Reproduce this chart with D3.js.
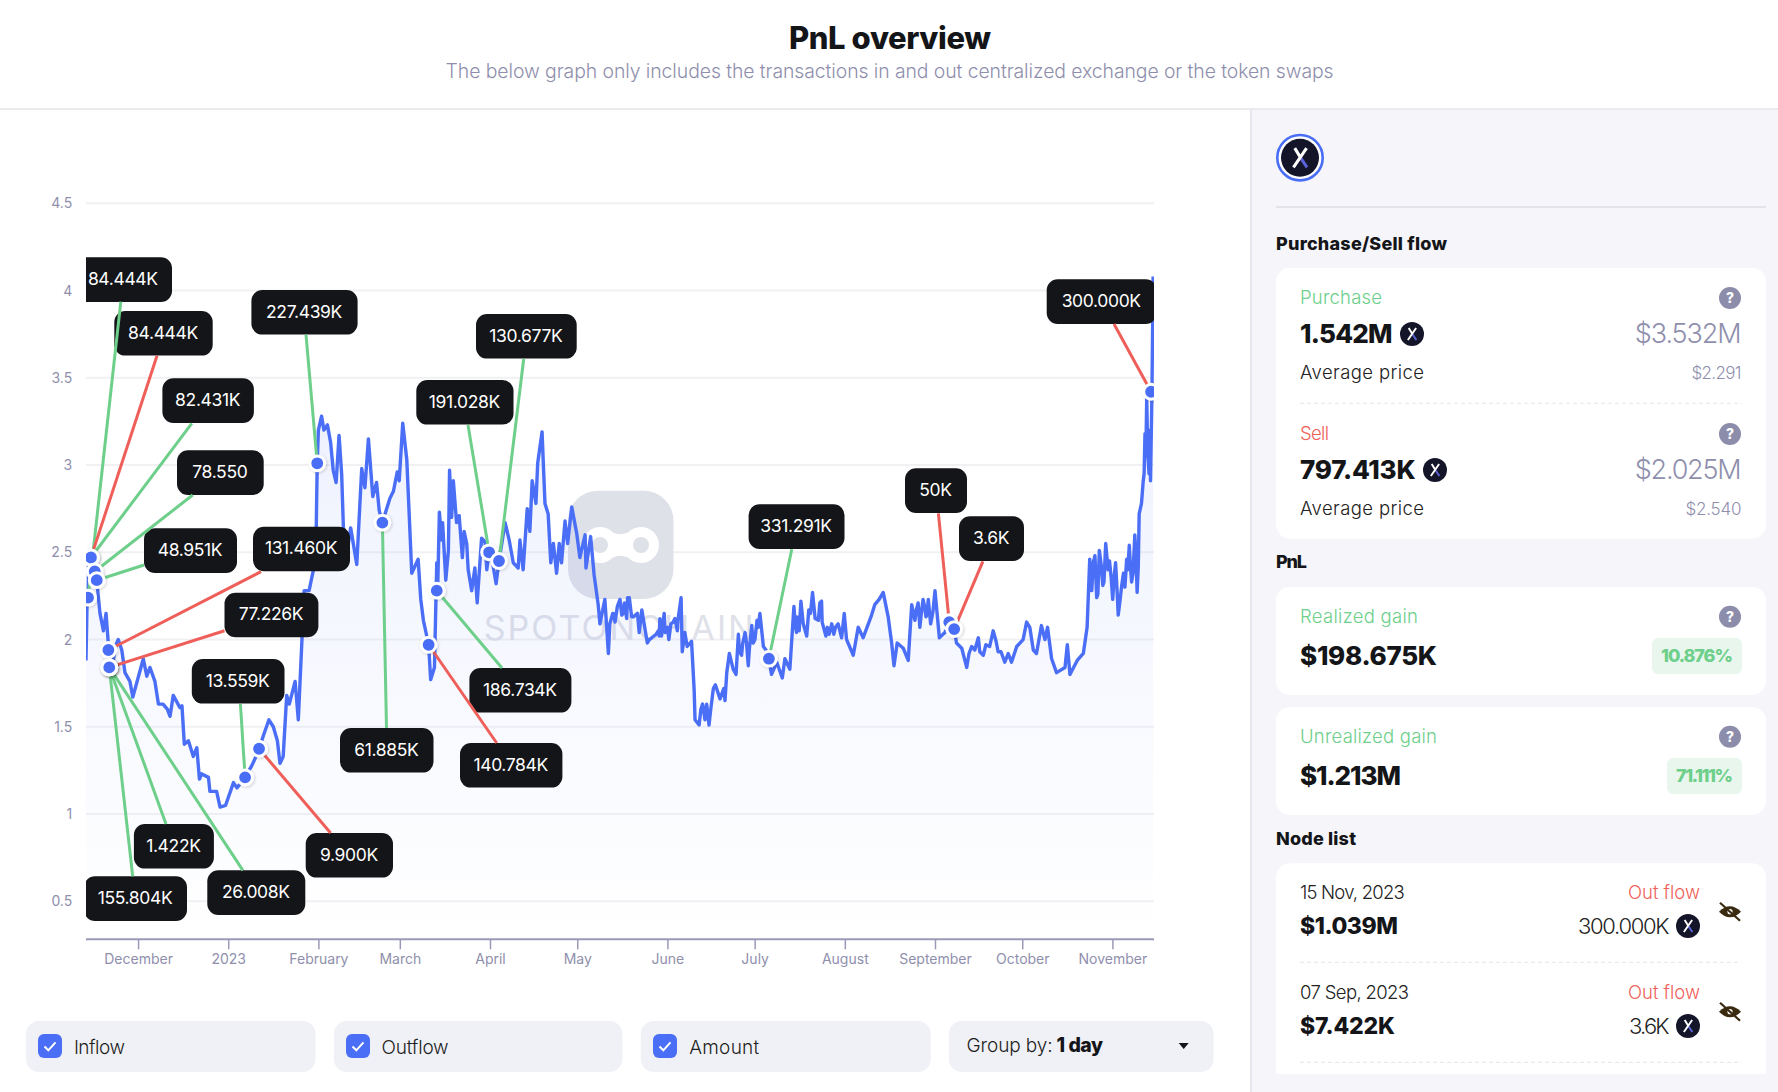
<!DOCTYPE html>
<html><head><meta charset="utf-8">
<style>html,body{margin:0;padding:0;background:#fff;overflow:hidden}svg{display:block}</style>
<script src="https://cdn.jsdelivr.net/npm/d3@7/dist/d3.min.js"></script>
</head><body><div id="c"></div>
<script>
// ---------- data: [days since 1 Jan 2023, token price]
const priceTrace = [[-48.9,1.88],[-48.5,2.24],[-48.2,2.24],[-47.9,2.50],[-47.2,2.47],[-46.5,2.40],[-45.9,2.39],[-45.2,2.34],[-44.1,2.15],[-42.9,2.05],[-42.0,2.15],[-41.2,1.97],[-40.9,1.84],[-39.9,1.84],[-38.6,1.97],[-37.8,2.00],[-36.6,1.94],[-35.5,1.81],[-33.8,1.76],[-32.8,1.67],[-29.2,1.89],[-28.0,1.79],[-26.9,1.84],[-25.2,1.76],[-24.0,1.63],[-22.4,1.63],[-20.9,1.60],[-20.0,1.56],[-18.9,1.68],[-16.6,1.61],[-15.9,1.62],[-15.1,1.40],[-13.7,1.42],[-12.0,1.33],[-10.8,1.38],[-9.9,1.20],[-9.1,1.23],[-6.8,1.21],[-6.3,1.13],[-4.0,1.13],[-2.8,1.04],[-0.9,1.05],[1.8,1.18],[3.0,1.15],[5.8,1.21],[8.2,1.28],[10.6,1.37],[12.1,1.45],[14.0,1.54],[15.5,1.50],[16.9,1.42],[17.8,1.29],[18.9,1.33],[20.1,1.68],[21.0,1.63],[23.0,1.76],[24.1,1.54],[25.3,1.98],[26.1,2.28],[27.8,2.28],[29.3,2.40],[30.2,2.57],[30.6,3.01],[31.0,3.20],[32.1,3.28],[32.9,3.20],[34.1,3.23],[35.2,3.13],[36.1,2.97],[37.1,2.90],[38.1,3.17],[39.0,2.95],[39.6,2.64],[40.5,2.46],[42.1,2.64],[44.2,2.43],[45.9,2.98],[47.0,2.87],[48.2,3.15],[49.7,2.82],[51.0,2.90],[51.9,2.74],[53.0,2.67],[55.6,2.81],[56.8,2.85],[58.1,2.96],[58.8,2.91],[60.0,3.24],[61.4,3.03],[63.1,2.38],[65.3,2.46],[66.2,2.23],[67.1,2.11],[68.9,1.97],[69.6,1.77],[70.9,1.84],[71.7,2.44],[72.0,2.28],[72.6,2.73],[73.4,2.57],[73.7,2.67],[74.8,2.34],[75.7,2.51],[76.1,2.97],[76.8,2.70],[77.4,2.91],[78.5,2.67],[79.4,2.71],[80.5,2.47],[81.1,2.62],[82.0,2.55],[82.5,2.40],[83.7,2.28],[84.8,2.41],[85.6,2.21],[87.1,2.58],[88.3,2.56],[88.9,2.40],[89.7,2.50],[90.9,2.44],[92.1,2.32],[93.1,2.45],[95.2,2.67],[96.6,2.57],[98.0,2.44],[99.7,2.41],[100.3,2.57],[101.4,2.40],[102.8,2.75],[103.7,2.62],[104.5,2.91],[105.8,2.78],[106.4,3.01],[107.9,3.19],[108.9,2.78],[110.0,2.72],[110.9,2.44],[111.8,2.55],[112.9,2.38],[113.8,2.55],[114.6,2.44],[115.8,2.68],[116.7,2.55],[118.1,2.76],[119.8,2.61],[120.9,2.47],[122.7,2.60],[123.0,2.41],[124.6,2.59],[125.8,2.37],[127.2,2.20],[127.8,2.09],[129.5,2.23],[130.7,1.92],[132.4,2.15],[134.7,2.23],[135.8,2.15],[137.3,2.24],[139.3,2.13],[140.7,2.15],[141.3,2.04],[142.2,2.17],[144.1,1.98],[145.6,2.01],[147.9,2.05],[148.4,2.12],[149.0,2.02],[149.9,2.15],[151.5,2.00],[153.0,2.10],[154.7,2.12],[155.7,2.24],[156.1,1.93],[157.0,2.04],[157.8,1.96],[159.3,1.99],[160.2,1.71],[160.5,1.54],[161.9,1.51],[163.1,1.63],[163.9,1.54],[164.5,1.63],[165.3,1.51],[166.8,1.72],[168.5,1.69],[169.1,1.66],[170.4,1.72],[170.8,1.65],[171.4,1.81],[172.3,1.92],[173.6,1.83],[174.6,1.80],[175.4,2.03],[176.5,1.91],[177.7,2.04],[178.8,1.85],[180.0,2.08],[181.1,2.00],[181.8,2.11],[182.8,2.15],[184.0,1.96],[184.9,1.94],[185.9,1.89],[186.8,1.80],[188.6,1.87],[190.5,1.78],[191.4,1.89],[193.1,1.83],[194.5,2.19],[195.4,2.04],[196.9,2.22],[198.9,2.02],[200.9,2.27],[202.9,2.11],[204.0,2.22],[205.5,2.02],[207.5,2.09],[208.2,2.03],[209.7,2.09],[210.9,2.01],[211.8,2.15],[212.6,2.00],[214.9,1.91],[216.6,2.07],[218.3,2.01],[221.2,2.14],[222.3,2.20],[223.8,2.23],[225.2,2.27],[226.9,2.13],[228.1,1.98],[228.9,1.85],[230.0,1.98],[232.1,1.95],[233.8,1.88],[235.0,2.20],[236.1,2.11],[237.2,2.21],[237.8,2.07],[238.9,2.23],[239.9,2.13],[240.7,2.23],[241.5,2.09],[243.0,2.28],[244.5,2.01],[246.4,2.04],[247.9,2.10],[249.6,2.06],[250.4,1.98],[252.2,1.95],[253.9,1.84],[254.7,1.92],[257.9,2.01],[259.6,1.91],[263.0,2.05],[264.7,1.93],[267.0,1.87],[268.2,1.92],[269.3,1.87],[271.1,1.96],[273.3,2.00],[274.5,2.10],[275.6,2.07],[276.8,1.94],[277.9,1.92],[279.6,2.08],[280.8,2.00],[281.7,2.07],[283.1,1.89],[284.8,1.81],[287.7,1.84],[288.5,1.97],[289.4,1.80],[291.9,1.88],[294.0,1.92],[295.3,2.07],[296.2,2.46],[296.9,2.28],[298.0,2.48],[298.6,2.24],[299.5,2.51],[300.7,2.31],[301.7,2.55],[302.5,2.40],[304.1,2.23],[305.1,2.44],[306.0,2.14],[307.2,2.31],[308.9,2.46],[309.8,2.54],[310.6,2.33],[311.7,2.60],[312.5,2.27],[313.2,2.72],[314.6,2.91],[315.2,3.18],[315.8,3.39],[316.3,3.03],[317.1,2.91],[317.6,3.42],[318.0,4.08]];
// finer readings of the densest stretches of the same line
const priceDetail = [[131.2,2.09],[132.2,2.15],[133.0,2.10],[133.8,2.19],[135.3,2.14],[136.2,2.21],[137.0,2.12],[137.9,2.24],[138.7,2.13],[144.8,2.00],[147.1,2.03],[148.2,2.02],[149.4,2.09],[150.2,2.04],[151.0,2.07],[152.2,2.09],[153.6,2.12],[154.4,2.05],[162.5,1.60],[165.9,1.60],[167.5,1.74],[175.8,1.93],[176.9,1.98],[178.2,1.98],[179.2,1.95],[180.5,1.98],[182.2,2.07],[183.0,2.12],[195.0,2.08],[195.6,2.13],[196.3,2.05],[197.7,2.09],[199.6,2.17],[200.2,2.15],[201.8,2.12],[203.4,2.21],[204.2,2.10],[206.0,2.07],[206.6,2.03],[208.8,2.07],[210.3,2.05],[236.6,2.17],[238.3,2.15],[239.4,2.19],[240.2,2.14],[242.3,2.16],[255.6,1.96],[256.7,1.94],[258.4,1.93],[260.5,1.97],[261.8,1.96],[264.0,1.99],[265.7,1.93],[297.4,2.44],[299.0,2.26],[300.2,2.42],[301.1,2.33],[303.0,2.45],[303.6,2.35],[304.6,2.36],[305.6,2.28],[306.6,2.22],[307.8,2.38],[308.3,2.30],[309.3,2.40],[310.2,2.42],[311.1,2.38],[312.1,2.48],[312.9,2.42],[314.0,2.78],[314.9,2.95],[315.5,3.05],[316.0,3.20],[316.6,2.95],[316.9,3.20]];

const nodeDays   = [-48.2,-47.2,-47.2,-45.9,-45.2,-41.2,-40.9,-40.9,-40.9,-40.9,5.8,10.6,30.6,53.0,71.7,68.9,89.7,93.1,185.9,247.9,249.6,317.3];
const nodePrices = [2.24,2.47,2.47,2.39,2.34,1.94,1.84,1.84,1.84,1.84,1.21,1.374,3.01,2.67,2.28,1.97,2.50,2.45,1.89,2.10,2.06,3.42];
const nodeAmounts= ["84.444K","84.444K","82.431K","78.550","48.951K","131.460K","77.226K","155.804K","1.422K","26.008K","13.559K","9.900K","227.439K","61.885K","186.734K","140.784K","191.028K","130.677K","331.291K","50K","3.6K","300.000K"];
const nodeFlows  = ["in","out","in","in","in","out","out","in","in","in","in","out","in","in","in","out","in","in","in","out","out","out"];

const yTicks = [0.5,1,1.5,2,2.5,3,3.5,4,4.5];
const monthTicks = ["2022-12-01","2023-01-01","2023-02-01","2023-03-01","2023-04-01","2023-05-01","2023-06-01","2023-07-01","2023-08-01","2023-09-01","2023-10-01","2023-11-01"];
const monthLabels = ["December","2023","February","March","April","May","June","July","August","September","October","November"];

// ---------- layout of the label boxes: [left, top, width, leaderX, leaderY] in page pixels
const labelLayout = [[74.6,257.3,97.4,120.8,301.7],[114.3,311,98.4,157,355.7],[162.4,378.3,91.5,191.8,423.3],[177,450.3,86.7,192.7,495],[144,528.3,93,144,565],[253,526.7,97,261,571.7],[224.5,592.7,93.9,224.5,630.7],[84,876.3,103,132.7,876.3],[133.9,824,80,166,824],[207.3,870.3,98,242.9,870.3],[191.8,659,92.7,240.4,704],[305.7,833,87.3,330.6,833],[251.4,290,106.2,306,334.7],[340,728,93.5,386.5,728],[469.4,668,102,502,668],[460,743,102.4,496.7,743],[416.3,380,97.2,468,425],[476,314,100.7,523.7,359],[748.6,504.3,95.9,791.8,549.3],[905,468.3,62,938.4,513.3],[959,516.3,65,982.9,561.3],[1046.7,279.3,110,1114,324]];

const W=1778,H=1092;
const plot={l:86,r:1154,t:203.3,b:939.3};
const C={ink:"#141518",mute:"#8f8fad",green:"#6dcf8a",red:"#ef5f5a",blue:"#4a6ef5",panel:"#f5f5fa",ctl:"#f0f1f6",grid:"#f1f1f4"};
const FONT="Inter, 'Noto Sans', sans-serif";
const svg=d3.select("#c").append("svg").attr("width",W).attr("height",H).attr("viewBox",`0 0 ${W} ${H}`).style("font-family",FONT);

function txt(g,x,y,s,o={}){
  const t=g.append("text").attr("x",x).attr("y",y).text(s)
   .attr("font-size",o.size||18).attr("font-weight",o.weight||400).attr("fill",o.fill||C.ink)
   .attr("text-anchor",o.anchor||"start");
  if(o.w) t.attr("textLength",o.w).attr("lengthAdjust","spacing");
  return t;
}
const day=d=>new Date(Date.UTC(2023,0,1)+d*864e5);
const x=d3.scaleUtc().domain([day(-48.9),day(318.3)]).range([plot.l,plot.r]);
const y=d3.scaleLinear().domain([0.282,4.5]).range([plot.b,plot.t]);

const defs=svg.append("defs");
defs.append("clipPath").attr("id","plotClip").append("rect").attr("x",plot.l).attr("y",100).attr("width",plot.r-plot.l).attr("height",plot.b-100);
const grad=defs.append("linearGradient").attr("id","areaFill").attr("gradientUnits","userSpaceOnUse").attr("x1",0).attr("x2",0).attr("y1",430).attr("y2",plot.b);
grad.append("stop").attr("offset",0).attr("stop-color",C.blue).attr("stop-opacity",0.085);
grad.append("stop").attr("offset",1).attr("stop-color",C.blue).attr("stop-opacity",0);
const shadow=defs.append("filter").attr("id","soft").attr("x","-50%").attr("y","-50%").attr("width","200%").attr("height","200%");
shadow.append("feDropShadow").attr("dx",1).attr("dy",1).attr("stdDeviation",1.5).attr("flood-color","#000").attr("flood-opacity",0.18);

// header
svg.append("rect").attr("x",0).attr("y",108).attr("width",W).attr("height",2).attr("fill","#ebebeb");
txt(svg,890,49,"PnL overview",{size:31,weight:800,anchor:"middle",w:202});
txt(svg,889.6,77.5,"The below graph only includes the transactions in and out centralized exchange or the token swaps",{size:19.4,weight:300,fill:"#8f8fad",anchor:"middle",w:888});

// y axis + grid
const gridG=svg.append("g");
gridG.selectAll("line").data(yTicks).join("line").attr("x1",plot.l).attr("x2",plot.r).attr("y1",d=>y(d)).attr("y2",d=>y(d)).attr("stroke",C.grid).attr("stroke-width",2);
const yAxis=svg.append("g").attr("transform",`translate(${plot.l},0)`).call(d3.axisLeft(y).tickValues(yTicks).tickSize(0).tickPadding(13.8).tickFormat(d3.format("~g")));
yAxis.select(".domain").remove();
yAxis.selectAll("text").attr("font-size",14).attr("fill",C.mute).attr("font-family",FONT).attr("dy",".33em");

// watermark
const wm=svg.append("g");
wm.append("rect").attr("x",568).attr("y",490.7).attr("width",105.5).attr("height",108.3).attr("rx",30).attr("fill","#dfe1e9");
wm.append("path").attr("d","M600 527a18 18 0 0 1 13 5.5q7 3.5 15 0a18 18 0 1 1 0 25q-8 -3.5 -15 0a18 18 0 1 1 -13 -30.5z").attr("fill","#fff");
wm.append("circle").attr("cx",600).attr("cy",545).attr("r",8).attr("fill","#dfe1e9");
wm.append("circle").attr("cx",641).attr("cy",545).attr("r",8).attr("fill","#dfe1e9");
txt(wm,483.7,640,"SPOTONCHAIN",{size:34,weight:400,fill:"#dfe1e9",w:270});

// series
const trace=priceTrace.concat(priceDetail).sort((a,b)=>a[0]-b[0]);
const line=d3.line().x(d=>x(day(d[0]))).y(d=>y(d[1]));
const area=d3.area().x(d=>x(day(d[0]))).y0(plot.b).y1(d=>y(d[1]));
const plotG=svg.append("g").attr("clip-path","url(#plotClip)");
plotG.append("path").datum(trace).attr("d",area).attr("fill","url(#areaFill)");
plotG.append("path").datum(trace).attr("d",line).attr("fill","none").attr("stroke",C.blue).attr("stroke-width",3.4).attr("stroke-linejoin","round");

// x axis
const xAxis=svg.append("g").attr("transform",`translate(0,${plot.b})`).call(d3.axisBottom(x).tickValues(monthTicks.map(s=>new Date(s+"T00:00:00Z"))).tickSize(10).tickPadding(5).tickFormat((d,i)=>monthLabels[i]));
xAxis.select(".domain").attr("stroke","#9a9ab8").attr("stroke-width",2).attr("d",`M${plot.l},0H${plot.r}`);
xAxis.selectAll("line").attr("stroke","#9a9ab8").attr("stroke-width",1.5);
xAxis.selectAll("text").attr("font-size",14).attr("fill",C.mute).attr("font-family",FONT);

// nodes: boxes, leaders, markers
const nodes=nodeDays.map((d,i)=>({d,p:nodePrices[i],a:nodeAmounts[i],f:nodeFlows[i],b:labelLayout[i]}));
const annG=plotG.append("g");
nodes.forEach(n=>{
  annG.append("rect").attr("x",n.b[0]).attr("y",n.b[1]).attr("width",n.b[2]).attr("height",44.6).attr("rx",11).attr("fill",C.ink);
  txt(annG,n.b[0]+n.b[2]/2-0.5,n.b[1]+27.5,n.a,{size:17.5,weight:400,fill:"#fff",anchor:"middle"}).attr("letter-spacing",-0.35);
});
nodes.forEach(n=>{
  annG.append("line").attr("x1",n.b[3]).attr("y1",n.b[4]).attr("x2",x(day(n.d))).attr("y2",y(n.p))
    .attr("stroke",n.f==="in"?C.green:C.red).attr("stroke-width",3);
});
annG.selectAll("circle.node").data(nodes).join("circle").attr("class","node")
  .attr("cx",n=>x(day(n.d))).attr("cy",n=>y(n.p)).attr("r",7.4).attr("fill",C.blue)
  .attr("stroke","#fff").attr("stroke-width",3).attr("filter","url(#soft)");

// controls
function ctl(xx,w){svg.append("rect").attr("x",xx).attr("y",1021).attr("width",w).attr("height",51).attr("rx",13).attr("fill",C.ctl);}
function check(xx){
  svg.append("rect").attr("x",xx).attr("y",1034).attr("width",24).attr("height",24).attr("rx",6).attr("fill",C.blue);
  svg.append("path").attr("d",`M${xx+6.5} 1046.5l3.8 3.8l7.2 -8`).attr("fill","none").attr("stroke","#fff").attr("stroke-width",2);
}
const seriesToggles=["Inflow","Outflow","Amount"];
[[26,289.5,38,73.9,51],[333.9,288.5,346,381.6,67],[640.8,290,653,689.2,70]].forEach((c,i)=>{
  ctl(c[0],c[1]);check(c[2]);txt(svg,c[3],1054,seriesToggles[i],{size:19,weight:300,fill:"#1d1e22",w:c[4]});
});
ctl(948.9,264.7);
txt(svg,966.6,1051.7,"Group by:",{size:19,weight:300,fill:"#1d1e22",w:86});
txt(svg,1056.5,1051.7,"1 day",{size:19.5,weight:800,w:46.5});
svg.append("path").attr("d","M1178.7 1043h10l-5 6z").attr("fill",C.ink);

// side panel
const side=svg.append("g");
side.append("rect").attr("x",1251).attr("y",110).attr("width",W-1251).attr("height",H-110).attr("fill",C.panel);
side.append("rect").attr("x",1250).attr("y",110).attr("width",2).attr("height",H-110).attr("fill","#e7e7ee");
function token(cx,cy,r,sw){
  side.append("circle").attr("cx",cx).attr("cy",cy).attr("r",r).attr("fill","#15152a");
  const a=r*.46, s=sw||r*.16;
  side.append("path").attr("d",`M${cx} ${cy-a*.1}L${cx+a*.8} ${cy+a*1.1}`).attr("stroke","#5a63d8").attr("stroke-width",s).attr("fill","none");
  side.append("path").attr("d",`M${cx-a*.6} ${cy-a*1.1}L${cx+a*.1} ${cy+a*.05}M${cx+a*.75} ${cy-a*1.1}L${cx-a*.75} ${cy+a*1.1}`).attr("stroke","#fff").attr("stroke-width",s).attr("fill","none");
}
function help(cx,cy){
  side.append("circle").attr("cx",cx).attr("cy",cy).attr("r",11).attr("fill","#8c8cab");
  txt(side,cx,cy+5,"?",{size:14,weight:800,fill:"#fff",anchor:"middle"});
}
function eye(cx,cy){
  side.append("path").attr("d",`M${cx-11} ${cy}Q${cx} ${cy-11} ${cx+11} ${cy}Q${cx} ${cy+11} ${cx-11} ${cy}z`).attr("fill","#3a2a10");
  side.append("circle").attr("cx",cx).attr("cy",cy).attr("r",2.6).attr("fill","#fff");
  side.append("path").attr("d",`M${cx-10} ${cy-9}L${cx+10} ${cy+9}`).attr("stroke","#3a2a10").attr("stroke-width",2.2);
}
function card(yy,h,square){
  side.append("rect").attr("x",1276).attr("y",yy).attr("width",490).attr("height",h).attr("rx",14).attr("fill","#fff");
  if(square) side.append("rect").attr("x",1276).attr("y",yy+h-20).attr("width",490).attr("height",20).attr("fill","#fff");
}
function dash(yy){side.append("line").attr("x1",1300).attr("x2",1741.5).attr("y1",yy).attr("y2",yy).attr("stroke","#e5e5ea").attr("stroke-dasharray","4 3");}
function pill(xx,yy,w,s,tw){
  side.append("rect").attr("x",xx).attr("y",yy).attr("width",w).attr("height",36).attr("rx",6).attr("fill","#e9f6ee");
  txt(side,1733,yy+24,s,{size:18,weight:800,fill:C.green,anchor:"end",w:tw});
}
const R=1741.5;
side.append("circle").attr("cx",1300).attr("cy",157.7).attr("r",22.7).attr("fill","#fff").attr("stroke",C.blue).attr("stroke-width",2.6);
token(1300,157.7,19);
side.append("rect").attr("x",1276).attr("y",206).attr("width",490).attr("height",2).attr("fill","#e3e3ea");
txt(side,1276,250,"Purchase/Sell flow",{size:18,weight:800,w:171});

card(267.7,271);
txt(side,1300,304,"Purchase",{fill:C.green,size:18.5,weight:300,w:82});help(1730,298);
txt(side,1300,342.7,"1.542M",{size:26,weight:800,w:92.6});token(1412,334,12);
txt(side,R,342.7,"$3.532M",{size:27,weight:300,fill:C.mute,anchor:"end",w:106.7});
txt(side,1300,379,"Average price",{size:18.5,weight:300,fill:"#222",w:124});
txt(side,R,379,"$2.291",{size:17,weight:300,fill:C.mute,anchor:"end",w:50});
dash(403.3);
txt(side,1300,440,"Sell",{fill:C.red,size:18.5,weight:300,w:29});help(1730,434);
txt(side,1300,478.7,"797.413K",{size:26,weight:800,w:115.6});token(1435,470,12);
txt(side,R,478.7,"$2.025M",{size:27,weight:300,fill:C.mute,anchor:"end",w:106.7});
txt(side,1300,515,"Average price",{size:18.5,weight:300,fill:"#222",w:124});
txt(side,R,515,"$2.540",{size:17,weight:300,fill:C.mute,anchor:"end",w:56});

txt(side,1276,568.3,"PnL",{size:18,weight:800,w:31});
card(586.7,108.3);
txt(side,1300,623.3,"Realized gain",{fill:C.green,size:18.5,weight:300,w:118});help(1730,616.7);
txt(side,1300,665,"$198.675K",{size:26,weight:800,w:137});
pill(1652,638,90,"10.876%",72);
card(707,108);
txt(side,1300,743.3,"Unrealized gain",{fill:C.green,size:18.5,weight:300,w:137});help(1730,736.7);
txt(side,1300,785,"$1.213M",{size:26,weight:800,w:101});
pill(1667,758,75,"71.111%",57);

txt(side,1276,845,"Node list",{size:18,weight:800,w:80});
card(863.3,210.7,true);
const listDates=["15 Nov, 2023","07 Sep, 2023"], listUsd=["$1.039M","$7.422K"], listAmt=["300.000K","3.6K"];
const listDateW=[104.7,109], listUsdW=[98,95], listAmtW=[91.6,40.5];
listDates.forEach((s,i)=>{
  const o=i*100;
  txt(side,1300,899.3+o,s,{size:18.5,weight:300,fill:"#222",w:listDateW[i]});
  txt(side,1700,899.3+o,"Out flow",{size:18.5,weight:300,fill:C.red,anchor:"end",w:72});
  txt(side,1300,933.8+o,listUsd[i],{size:23,weight:800,w:listUsdW[i]});
  txt(side,1669.6,933.8+o,listAmt[i],{size:22,weight:300,fill:"#222",anchor:"end",w:listAmtW[i]});
  token(1688,926+o,12);
  eye(1730,911.7+o);
  dash(962.3+o);
});
</script></body></html>
